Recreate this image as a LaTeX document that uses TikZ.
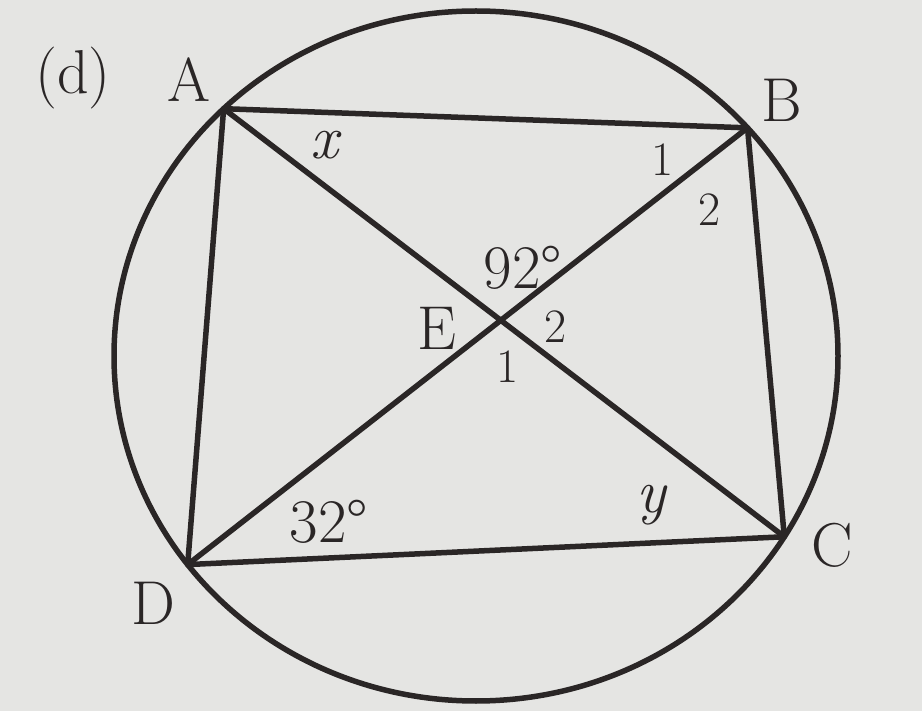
\documentclass[tikz,border=0pt]{standalone}
\usetikzlibrary{calc}
\definecolor{paper}{RGB}{229,229,227}
\definecolor{ink}{RGB}{42,38,38}
\tikzset{lbl/.style={font=\fontsize{62}{62}\selectfont, text=ink, inner sep=0pt},
         num/.style={font=\fontsize{48}{48}\selectfont, text=ink, inner sep=0pt}}
\begin{document}
\begin{tikzpicture}[x=1pt,y=-1pt,line width=5.5pt,line join=round]
  \fill[paper] (0,0) rectangle (922,711);
  \coordinate (O) at (476,356);
  \draw[ink] (O) ellipse [x radius=362, y radius=345];
  \foreach \p/\t in {A/225.8,B/318.6,C/31.6,D/142.8}
    \coordinate (\p) at ($(O)+(\t:362 and 345)$);
  \draw[ink] (A) -- (B) -- (C) -- (D) -- cycle;
  \draw[ink] (A) -- (C) (B) -- (D);
  \node[lbl] (d) at (73,78) {(d)};
  \node[lbl] (lA) at (189,80) {A};
  \node[lbl] (lB) at (782,100) {B};
  \node[lbl] (lC) at (832,545) {C};
  \node[lbl] (lD) at (153,603) {D};
  \node[lbl] (lE) at (437,328) {E};
  \node[lbl] (x) at (326,145) {\textit{x}};
  \node[lbl] (y) at (652,505) {\textit{y}};
  \node[num] (B1) at (663,160) {1};
  \node[num] (B2) at (710,210) {2};
  \node[num] (E1) at (508,367) {1};
  \node[num] (E2) at (556,327) {2};
  \node[lbl] (a92) at (523,268) {92°};
  \node[lbl] (a32) at (329,522) {32°};
\end{tikzpicture}
\end{document}
